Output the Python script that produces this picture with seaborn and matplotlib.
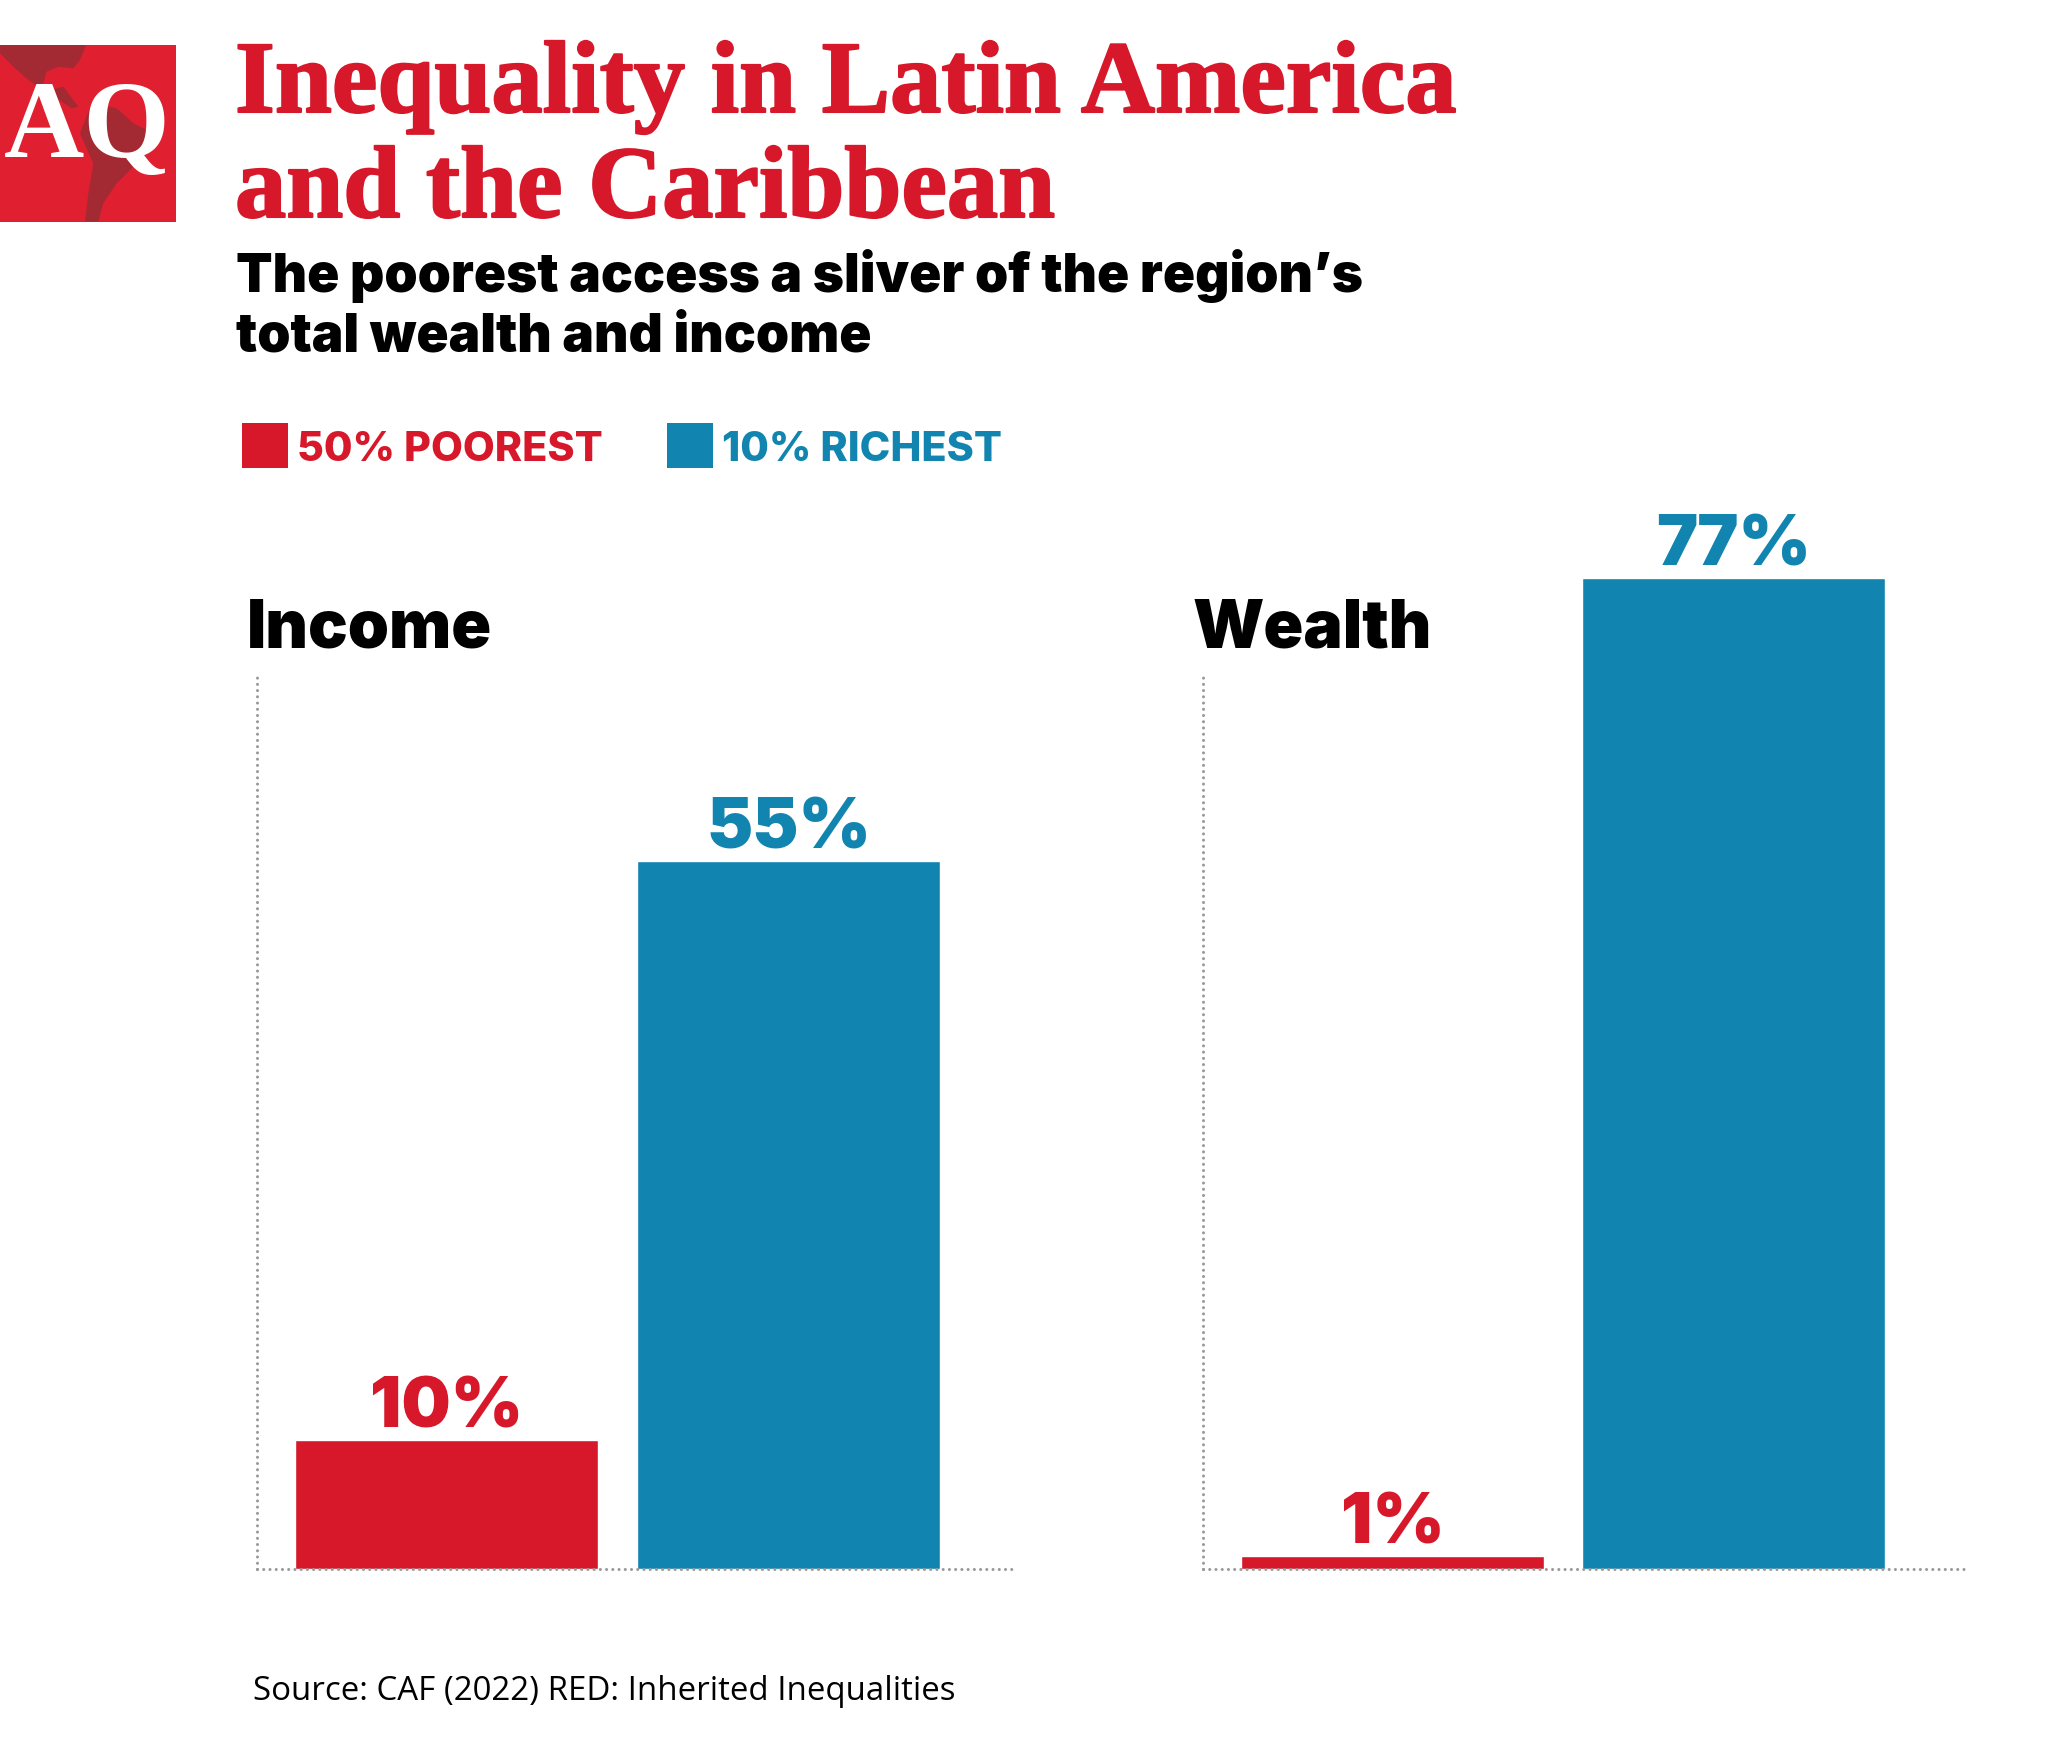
import matplotlib
matplotlib.use("Agg")
import matplotlib.pyplot as plt
import matplotlib.patheffects as pe
from matplotlib.patches import Rectangle, Polygon
import pandas as pd
import seaborn as sns

W, H = 2048, 1762
groups = ["Income", "Wealth"]
series = ["50% POOREST", "10% RICHEST"]
income_values = [10, 55]
wealth_values = [1, 77]
title_lines = ["Inequality in Latin America", "and the Caribbean"]
subtitle_lines = ["The poorest access a sliver of the region\u2019s", "total wealth and income"]
source = "Source: CAF (2022) RED: Inherited Inequalities"
RED, BLUE = "#D7182A", "#1185B0"
palette = dict(zip(series, [RED, BLUE]))

sns.set_theme(style="white")
fig = plt.figure(figsize=(W / 100, H / 100), dpi=100, facecolor="white")


def put(x, y, s, size, color="black", family="Lato", weight="normal", stroke=0, **kw):
    t = fig.text(x / W, 1 - y / H, s, fontsize=size, color=color, family=family,
                 weight=weight, va="baseline", ha=kw.pop("ha", "left"), **kw)
    if stroke:
        t.set_path_effects([pe.withStroke(linewidth=stroke, foreground=color)])
    return t


def pxrect(x0, y0, x1, y1, color):
    fig.add_artist(Rectangle((x0 / W, 1 - y1 / H), (x1 - x0) / W, (y1 - y0) / H,
                             transform=fig.transFigure, facecolor=color, edgecolor="none"))


# logo
pxrect(0, 45, 176, 222, "#E01F30")
map_shapes = [
    [(0, 15), (258, 15), (240, 60), (220, 85), (175, 80), (140, 95), (130, 130), (115, 140), (85, 120), (40, 80), (0, 40)],
    [(150, 150), (190, 140), (235, 200), (215, 205), (170, 175)],
    [(275, 190), (350, 205), (400, 250), (470, 285), (455, 320), (400, 380), (350, 430), (310, 490), (295, 545),
     (255, 545), (265, 460), (280, 370), (240, 280)],
]
for shape in map_shapes:
    pts = [(x / 3 / W, 1 - (40 + y / 3) / H) for x, y in shape]
    fig.add_artist(Polygon(pts, closed=True, transform=fig.transFigure, facecolor="#A32A33", edgecolor="none"))
put(4, 157, "AQ", 80, color="white", family="Liberation Serif", weight="bold")

# headings
for line, y in zip(title_lines, [112, 217]):
    put(235, y, line, 73.8, color=RED, family="Liberation Serif", weight="bold", stroke=1.5)
for line, y in zip(subtitle_lines, [292, 352]):
    put(236, y, line, 38.3, family="Inter", weight=900)

# legend
for s, c, x0, tx in zip(series, [RED, BLUE], [242, 667], [297, 722]):
    pxrect(x0, 423, x0 + 46, 468, c)
    put(tx, 461, s, 29.8, color=c, family="Inter", weight=800)

# panels
SCALE = 12.87
TOP = 80
panels = zip(groups, [income_values, wealth_values], [257, 1203], [1016, 1964],
             [(-0.554, 1.665), (-0.5557, 1.676)], [0.886, 0.8886], [247, 1193])
for group, vals, left, right, xlim, bw, label_x in panels:
    ax = fig.add_axes([left / W, 1 - 1569 / H, (right - left) / W, TOP * SCALE / H])
    df = pd.DataFrame({"series": series, "value": vals})
    sns.barplot(data=df, x="series", y="value", hue="series", palette=palette, width=bw,
                dodge=False, legend=False, saturation=1, ax=ax)
    ax.set_xlim(*xlim)
    ax.set_ylim(0, TOP)
    ax.set_xticks([])
    ax.set_yticks([])
    ax.set_xlabel("")
    ax.set_ylabel("")
    ax.patch.set_alpha(0)
    for side in ["top", "right"]:
        ax.spines[side].set_visible(False)
    for side in ["left", "bottom"]:
        sp = ax.spines[side]
        sp.set_linewidth(2.2)
        sp.set_color("#999999")
        sp.set_linestyle((0, (0.01, 2.03)))
        sp.set_capstyle("round")
    ax.spines["left"].set_bounds(0, 69.6)
    for bar, v, c in zip(ax.patches, vals, [RED, BLUE]):
        ax.annotate(f"{v}%", (bar.get_x() + bar.get_width() / 2, v), xytext=(0, 9), textcoords="offset points",
                    ha="center", va="baseline", fontsize=50, color=c, family="Inter", weight=900,
                    annotation_clip=False)
    put(label_x, 648, group, 47.5, family="Inter", weight=900)

put(253, 1700, source, 23.8, family="Open Sans")
fig.savefig("out.png", dpi=100, facecolor="white")
